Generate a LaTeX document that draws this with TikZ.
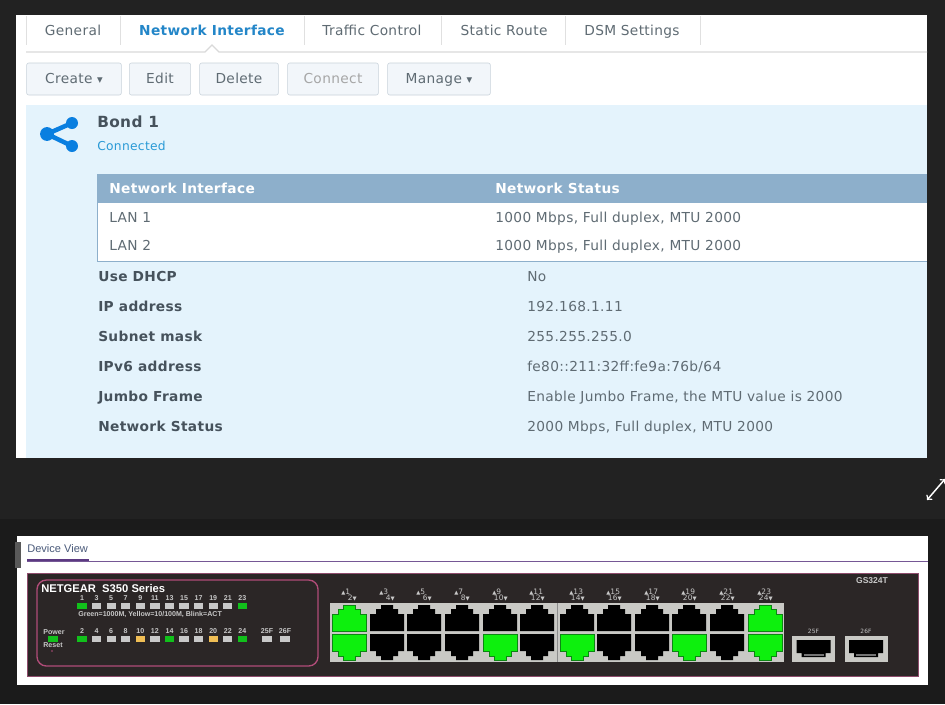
\documentclass[tikz,border=0pt]{standalone}
\usepackage{fontspec}
\setmainfont[LetterSpace=2.5]{DejaVu Sans}
\newfontfamily\panelfont{Liberation Sans}
\definecolor{pagedark}{HTML}{222222}
\definecolor{pagedarker}{HTML}{1B1B1B}
\definecolor{panelblue}{HTML}{E4F3FC}
\definecolor{headblue}{HTML}{8DAFCB}
\definecolor{tabblue}{HTML}{2386C8}
\definecolor{iconblue}{HTML}{0A7FE0}
\definecolor{linkblue}{HTML}{2A9AD6}
\definecolor{greytext}{HTML}{5F6B73}
\definecolor{boldtext}{HTML}{46525C}
\definecolor{btnfill}{HTML}{F2F6FA}
\definecolor{btnline}{HTML}{C8D2DA}
\definecolor{devdark}{HTML}{2B2626}
\definecolor{devline}{HTML}{8E4C6C}
\definecolor{devpurple}{HTML}{5C3A82}
\definecolor{devtext}{HTML}{4A5A7A}
\definecolor{pinkline}{HTML}{B04C78}
\definecolor{portgreen}{HTML}{0DF00D}
\definecolor{ledgreen}{HTML}{11C01B}
\definecolor{ledyellow}{HTML}{F0BE55}
\definecolor{ledgrey}{HTML}{C8C8C8}
\definecolor{silver}{HTML}{C9C9C5}
\tikzset{
    txt/.style={inner sep=0pt, anchor=west, text height=8.5pt, text depth=1.5pt, font=\fontsize{10.3}{11}\selectfont, text=greytext},
    lbl/.style={txt, font=\fontsize{10.3}{11}\selectfont\bfseries, text=boldtext},
    tabtxt/.style={txt, anchor=center},
    btn/.style={draw=btnline, fill=btnfill, rounded corners=1.5pt, inner sep=0pt, minimum height=24pt, text height=8.5pt, text depth=1.5pt, text=greytext, font=\fontsize{10.3}{11}\selectfont},
    led/.style={fill=ledgrey, inner sep=0pt, minimum width=7pt, minimum height=4pt},
    ledtxt/.style={inner sep=0pt, text=ledgrey, font=\panelfont\bfseries\fontsize{5.3}{6}\selectfont},
    porttxt/.style={inner sep=0pt, text=ledgrey, font=\fontsize{4.4}{5}\selectfont},
    porton/.style={fill=portgreen, draw=ledgreen!70!black, line width=.5pt},
    portoff/.style={fill=black, draw=none},
    porttop/.pic={\path[pic actions] (-17,13) -- (17,13) -- (17,-4) -- (11,-4) -- (11,-9) -- (6,-9) -- (6,-13) -- (-6,-13) -- (-6,-9) -- (-11,-9) -- (-11,-4) -- (-17,-4) -- cycle;},
    portbot/.pic={\path[pic actions] (-17,-13) -- (17,-13) -- (17,4) -- (11,4) -- (11,9) -- (6,9) -- (6,13) -- (-6,13) -- (-6,9) -- (-11,9) -- (-11,4) -- (-17,4) -- cycle;}
}
\begin{document}
\begin{tikzpicture}[x=.75pt, y=-.75pt]
    \useasboundingbox (0,0) rectangle (945,704);
    % Page background
    \fill[pagedark] (0,0) rectangle (945,519);
    \fill[pagedarker] (0,519) rectangle (945,704);
    \fill[white] (16,15) rectangle (927,458);
    \fill[panelblue] (26,105) rectangle (927,458);

    % Tabs
    \node[tabtxt] (tgen) at (73,31) {General};
    \node[tabtxt, text=tabblue, font=\fontsize{10.3}{11}\selectfont\bfseries] (tnet) at (212,31) {Network Interface};
    \node[tabtxt] (ttra) at (372,31) {Traffic Control};
    \node[tabtxt] (tsta) at (504,31) {Static Route};
    \node[tabtxt] (tdsm) at (632,31) {DSM Settings};
    \draw[black!12] (26,16) -- (26,45) (120,16) -- (120,45) (304,16) -- (304,45) (441,16) -- (441,45) (565,16) -- (565,45) (700,16) -- (700,45);
    \draw[black!15, line width=1pt] (26,52) -- (205,52) -- (212,45) -- (219,52) -- (927,52);

    % Buttons
    \node[btn, minimum width=71pt] (bcreate) at (74,79) {Create \raisebox{1pt}{\fontsize{5.5}{6}\selectfont ▼}};
    \node[btn, minimum width=46pt] (bedit) at (160,79) {Edit};
    \node[btn, minimum width=59pt] (bdelete) at (239,79) {Delete};
    \node[btn, minimum width=68pt, text=black!35] (bconnect) at (333,79) {Connect};
    \node[btn, minimum width=77pt] (bmanage) at (439,79) {Manage \raisebox{1pt}{\fontsize{5.5}{6}\selectfont ▼}};

    % Bond icon and title
    \draw[iconblue, line width=3.4pt] (72,123) -- (47,134) -- (72,146);
    \fill[iconblue] (72,123) circle (4.5pt) (72,146) circle (4.5pt) (47,134) circle (5.2pt);
    \node[lbl, font=\fontsize{11.5}{13}\selectfont\bfseries] (bond) at (97,123) {Bond 1};
    \node[txt, text=linkblue, font=\fontsize{9.2}{11}\selectfont] (conn) at (97,146) {Connected};

    % Table
    \fill[white] (97,203) rectangle (927,261);
    \fill[headblue] (97,174) rectangle (927,203);
    \draw[headblue] (97,174) -- (97,261) -- (927,261);
    \node[lbl, text=white] (hnet) at (109,189) {Network Interface};
    \node[lbl, text=white] (hsta) at (495,189) {Network Status};
    \node[txt] (lan1) at (109,218) {LAN 1};
    \node[txt] (sta1) at (495,218) {1000 Mbps, Full duplex, MTU 2000};
    \node[txt] (lan2) at (109,246) {LAN 2};
    \node[txt] (sta2) at (495,246) {1000 Mbps, Full duplex, MTU 2000};

    % Column 1 (settings)
    \node[lbl] (dhcp) at (98,277) {Use DHCP};
    \node[lbl] (ip) at (98,307) {IP address};
    \node[lbl] (mask) at (98,337) {Subnet mask};
    \node[lbl] (ipv6) at (98,367) {IPv6 address};
    \node[lbl] (jumbo) at (98,397) {Jumbo Frame};
    \node[lbl] (status) at (98,427) {Network Status};

    % Column 2 (values)
    \node[txt] (vdhcp) at (527,277) {No};
    \node[txt] (vip) at (527,307) {192.168.1.11};
    \node[txt] (vmask) at (527,337) {255.255.255.0};
    \node[txt] (vipv6) at (527,367) {fe80::211:32ff:fe9a:76b/64};
    \node[txt] (vjumbo) at (527,397) {Enable Jumbo Frame, the MTU value is 2000};
    \node[txt] (vstatus) at (527,427) {2000 Mbps, Full duplex, MTU 2000};

    % Expand arrow
    \coordinate (ea) at (927,500);
    \coordinate (eb) at (945,479);
    \draw[white, line width=1.1pt, <->, >=to] (ea) -- (eb);

    % Device view header
    \fill[white] (17,536) rectangle (928,685);
    \fill[black!65] (15,542) rectangle (21,568);
    \node[inner sep=0pt, anchor=west, text=devtext, font=\panelfont\fontsize{8.3}{9}\selectfont] (dview) at (27,549) {Device View};
    \draw[devpurple!85, line width=.6pt] (27,561) -- (928,561);
    \draw[devpurple, line width=1.5pt] (27,560) -- (89,560);

    % Switch body
    \draw[devline, fill=devdark, line width=.5pt] (27,573) rectangle (918,676);
    \draw[pinkline, line width=1pt, rounded corners=7pt] (37,580) rectangle (318,666);
    \node[inner sep=0pt, anchor=west, text=white, font=\panelfont\bfseries\fontsize{8.4}{9}\selectfont] (brand) at (41,588) {NETGEAR\ \ S350 Series};
    \node[ledtxt, anchor=west] (legend) at (78,614) {Green=1000M, Yellow=10/100M, Blink=ACT};

    % LEDs (odd row, even row)
    \foreach \n/\x in {1/82,3/96.6,5/111.2,7/125.7,9/140.3,11/154.9,13/169.5,15/184,17/198.6,19/213.2,21/227.8,23/242.3} {
        \node[ledtxt] (to\n) at (\x,598) {\n};
        \node[led] (lo\n) at (\x,606) {};
    }
    \foreach \n/\x in {2/82,4/96.6,6/111.2,8/125.7,10/140.3,12/154.9,14/169.5,16/184,18/198.6,20/213.2,22/227.8,24/242.3} {
        \node[ledtxt] (te\n) at (\x,631) {\n};
        \node[led] (le\n) at (\x,639) {};
    }
    \node[led, fill=ledgreen] at (lo1) {};
    \node[led, fill=ledgreen] at (lo23) {};
    \node[led, fill=ledgreen] at (le2) {};
    \node[led, fill=ledgreen] at (le14) {};
    \node[led, fill=ledgreen] at (le24) {};
    \node[led, fill=ledyellow] at (le10) {};
    \node[led, fill=ledyellow] at (le20) {};
    \node[ledtxt] (t25) at (267,631) {25F};
    \node[led] (l25) at (267,639) {};
    \node[ledtxt] (t26) at (285,631) {26F};
    \node[led] (l26) at (285,639) {};
    \node[ledtxt] (tpow) at (54,632) {Power};
    \node[led, fill=ledgreen] (lpow) at (53,639) {};
    \node[ledtxt] (treset) at (53,645) {Reset};
    \fill[pinkline] (52,651) circle (.6pt);

    % Ports
    \fill[silver] (330,603) rectangle (784,662);
    \draw[black!45, line width=.6pt] (557,603) -- (557,662);
    \foreach \n/\x in {1/349,3/387,5/424,7/462,9/500,11/537,13/577,15/614,17/652,19/689,21/727,23/765} {
        \pgfmathtruncatemacro{\m}{\n+1}
        \pic[portoff] at (\x,618) {porttop};
        \pic[portoff] at (\x,647) {portbot};
        \node[porttxt, anchor=west] (pa\n) at (\x-8,592) {\fontsize{4}{4}\selectfont▲\fontsize{5.6}{6}\selectfont\n};
        \node[porttxt, anchor=east] (pb\m) at (\x+8,598.5) {\fontsize{5.6}{6}\selectfont\m\fontsize{4}{4}\selectfont▼};
    }
    \pic[porton] at (349,618) {porttop};
    \pic[porton] at (765,618) {porttop};
    \foreach \x in {349,500,577,689,765} {
        \pic[porton] at (\x,647) {portbot};
    }

    % SFP ports
    \foreach \n/\x in {25/813.5,26/866} {
        \fill[silver] (\x-21.5,636) rectangle (\x+21.5,662);
        \fill[black] (\x-17,640) -- (\x+17,640) -- (\x+17,653) -- (\x+12,653) -- (\x+12,657) -- (\x-12,657) -- (\x-12,653) -- (\x-17,653) -- cycle;
        \fill[black!55] (\x-10,654) rectangle (\x+10,655.5);
        \node[ledtxt, font=\fontsize{4.4}{5}\selectfont] (sfp\n) at (\x,631) {\n F};
    }
    \node[ledtxt, font=\panelfont\bfseries\fontsize{6.4}{7}\selectfont] (model) at (872,581) {GS324T};
\end{tikzpicture}
\end{document}
